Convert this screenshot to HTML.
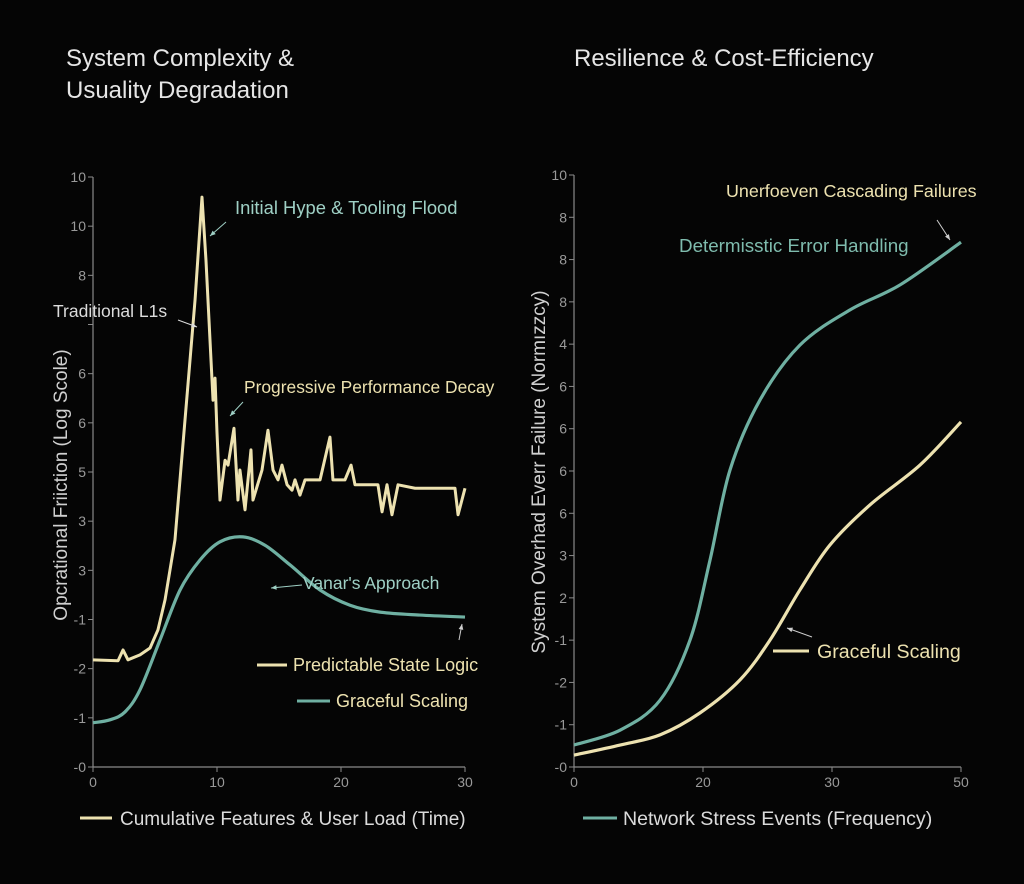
<!DOCTYPE html>
<html><head><meta charset="utf-8"><style>
html,body{margin:0;padding:0;background:#000;}
svg{display:block;font-family:"Liberation Sans",sans-serif;}
</style></head><body>
<svg id="c" width="1024" height="884" viewBox="0 0 1024 884">
<rect width="1024" height="884" fill="#050505"/>
<text x="66" y="66" fill="#e6e6e6" font-size="24">System Complexity &amp;</text>
<text x="66" y="98" fill="#e6e6e6" font-size="24">Usuality Degradation</text>
<text x="574" y="66" fill="#e6e6e6" font-size="24">Resilience &amp; Cost-Efficiency</text>
<g id="L"></g>
<g id="R"></g>
</svg>
<script>
const NS='http://www.w3.org/2000/svg';
// Left chart data (y in axis-tick index units)
const leftXTicks=[0,10,20,30];
const leftYTickLabels=['-0','-1','-2','-1','3','3','5','6','6','','8','10','10'];
const leftYellowX=[0,2.02,2.42,2.82,3.79,4.6,5.24,5.81,6.61,7.42,8.23,8.79,9.11,9.68,9.84,10.0,10.24,10.65,10.89,11.37,11.69,11.85,12.26,12.74,12.9,13.63,14.11,14.52,14.92,15.24,15.65,16.05,16.29,16.69,17.1,18.31,19.11,19.35,20.32,20.81,21.13,21.94,22.98,23.31,23.71,24.11,24.6,25.97,29.19,29.44,30];
const leftYellowY=[2.18,2.16,2.38,2.18,2.28,2.42,2.79,3.40,4.62,7.06,9.50,11.59,10.31,7.46,7.91,6.8,5.43,6.24,6.14,6.89,5.43,6.04,5.23,6.45,5.43,6.04,6.85,6.04,5.84,6.14,5.74,5.63,5.84,5.53,5.84,5.84,6.71,5.84,5.84,6.14,5.74,5.74,5.74,5.19,5.74,5.13,5.74,5.67,5.67,5.13,5.67];
const leftTealX=[0,1.37,2.58,3.79,5.4,7.02,8.63,10.24,12.1,13.87,15.89,18.31,20.73,23.15,26.37,30];
const leftTealY=[0.9,0.96,1.12,1.57,2.58,3.6,4.21,4.58,4.68,4.51,4.11,3.6,3.29,3.15,3.09,3.05];
// Right chart data (x,y in tick index units)
const rightXTickLabels=['0','20','30','50'];
const rightYTickLabels=['-0','-1','-2','-1','2','3','6','6','6','6','4','8','8','8','10'];
const rightTealX=[0,0.357,0.667,0.899,1.054,1.209,1.442,1.752,2.14,2.527,3.0];
const rightTealY=[0.52,0.87,1.58,3.0,4.89,7.02,8.68,9.98,10.81,11.40,12.41];
const rightYellowX=[0,0.357,0.667,0.977,1.287,1.519,1.752,1.984,2.295,2.682,3.0];
const rightYellowY=[0.28,0.52,0.76,1.28,2.06,3.0,4.19,5.25,6.2,7.14,8.16];

const TEAL='#6fb0a2',YEL='#ede2b0',AX='#8a8a8a';
function el(parent,tag,attrs,text){const e=document.createElementNS(NS,tag);for(const k in attrs)e.setAttribute(k,attrs[k]);if(text!==undefined)e.textContent=text;parent.appendChild(e);return e;}
function smooth(pts){let d='M'+pts[0][0]+','+pts[0][1];for(let i=0;i<pts.length-1;i++){const p0=pts[i-1]||pts[i],p1=pts[i],p2=pts[i+1],p3=pts[i+2]||p2;d+=' C'+(p1[0]+(p2[0]-p0[0])/6)+','+(p1[1]+(p2[1]-p0[1])/6)+' '+(p2[0]-(p3[0]-p1[0])/6)+','+(p2[1]-(p3[1]-p1[1])/6)+' '+p2[0]+','+p2[1];}return d;}
function axes(g,x0,x1,y0,y1,xt,xlab,yt,sy,sx){
 let a=el(g,'line',{x1:x0,y1:y0,x2:x0,y2:y1,stroke:AX,'stroke-width':1.2});
 
 a=el(g,'line',{x1:x0,y1:y0,x2:x1,y2:y0,stroke:AX,'stroke-width':1.2});
 
 yt.forEach((l,i)=>{const y=sy(i);el(g,'line',{x1:x0-5,y1:y,x2:x0,y2:y,stroke:AX});
  if(l){const t=el(g,'text',{x:x0-7,y:y+5,fill:'#9a9a9a','font-size':14,'text-anchor':'end'},l);
  }});
 xt.forEach((v,i)=>{const x=sx(v,i);el(g,'line',{x1:x,y1:y0,x2:x,y2:y0+5,stroke:AX});
  const t=el(g,'text',{x:x,y:y0+20,fill:'#9a9a9a','font-size':14,'text-anchor':'middle'},xlab[i]);
  });
}
function txt(g,x,y,s,fill,size,name,anchor,rot){const a={x:x,y:y,fill:fill,'font-size':size};if(anchor)a['text-anchor']=anchor;if(rot)a.transform=rot;const t=el(g,'text',a,s);return t;}
function arrow(g,x1,y1,x2,y2,c){el(g,'line',{x1:x1,y1:y1,x2:x2,y2:y2,stroke:c,'stroke-width':1});const ang=Math.atan2(y2-y1,x2-x1);const p=[[x2,y2],[x2-6*Math.cos(ang-0.4),y2-6*Math.sin(ang-0.4)],[x2-6*Math.cos(ang+0.4),y2-6*Math.sin(ang+0.4)]];el(g,'polygon',{points:p.map(q=>q.join(',')).join(' '),fill:c});}

// LEFT
const L=document.getElementById('L');
const lx=v=>93+(v/30)*372, ly=v=>767-v*(590/12);
axes(L,93,465,767,177,leftXTicks,leftXTicks.map(String),leftYTickLabels,ly,(v)=>lx(v));
let p=el(L,'path',{d:smooth(leftTealX.map((x,i)=>[lx(x),ly(leftTealY[i])])),fill:'none',stroke:TEAL,'stroke-width':3.2});

p=el(L,'polyline',{points:leftYellowX.map((x,i)=>lx(x)+','+ly(leftYellowY[i])).join(' '),fill:'none',stroke:YEL,'stroke-width':3,'stroke-linejoin':'round'});

txt(L,235,214,'Initial Hype & Tooling Flood','#9fd0c5',18.4,'annotation-initial-hype');
arrow(L,226,222,210,236,'#9fd0c5');
txt(L,53,317,'Traditional L1s','#dcdcdc',17.5,'annotation-traditional-l1s');
arrow(L,178,320,197,327,'#dcdcdc');
txt(L,244,393,'Progressive Performance Decay',YEL,17.4,'annotation-performance-decay');
arrow(L,243,402,230,416,'#9fd0c5');
txt(L,303,589,"Vanar's Approach",'#9fd0c5',17.5,'annotation-vanar-approach');
arrow(L,302,585,271,588,'#9fd0c5');
arrow(L,459,640,462,624,'#cfcfcf');
el(L,'line',{x1:257,y1:665,x2:287,y2:665,stroke:YEL,'stroke-width':3});
txt(L,293,671,'Predictable State Logic',YEL,18,'legend-predictable-state-logic');
el(L,'line',{x1:297,y1:701,x2:330,y2:701,stroke:TEAL,'stroke-width':3});
txt(L,336,707,'Graceful Scaling',YEL,18,'legend-graceful-scaling');
txt(L,67,485,'Opcrational Friiction (Log Scole)','#d0d0d0',19,'left-y-axis-title','middle','rotate(-90 67 485)');
el(L,'line',{x1:80,y1:818,x2:112,y2:818,stroke:YEL,'stroke-width':3});
txt(L,120,825,'Cumulative Features & User Load (Time)','#dcdcdc',19,'left-x-axis-title');

// RIGHT
const R=document.getElementById('R');
const rx=v=>574+v*129, ry=v=>767-v*(592/14);
axes(R,574,961,767,175,[0,1,2,3],rightXTickLabels,rightYTickLabels,ry,(v)=>rx(v));
p=el(R,'path',{d:smooth(rightTealX.map((x,i)=>[rx(x),ry(rightTealY[i])])),fill:'none',stroke:TEAL,'stroke-width':3.2});

p=el(R,'path',{d:smooth(rightYellowX.map((x,i)=>[rx(x),ry(rightYellowY[i])])),fill:'none',stroke:YEL,'stroke-width':3.2});

txt(R,726,197,'Unerfoeven Cascading Failures',YEL,17.9,'annotation-cascading-failures');
arrow(R,937,220,950,240,'#cfcfcf');
txt(R,679,252,'Determisstic Error Handling','#7fbcae',18.8,'annotation-deterministic');
txt(R,817,658,'Graceful Scaling',YEL,19.6,'legend-graceful-scaling-right');
el(R,'line',{x1:773,y1:651,x2:809,y2:651,stroke:YEL,'stroke-width':3});
arrow(R,812,637,787,628,'#cfcfcf');
txt(R,545,472,'System Overhad Everr Failure (Normızzcy)','#d0d0d0',19,'right-y-axis-title','middle','rotate(-90 545 472)');
el(R,'line',{x1:583,y1:818,x2:617,y2:818,stroke:TEAL,'stroke-width':3});
txt(R,623,825,'Network Stress Events (Frequency)','#dcdcdc',19.6,'right-x-axis-title');
</script>
</body></html>
